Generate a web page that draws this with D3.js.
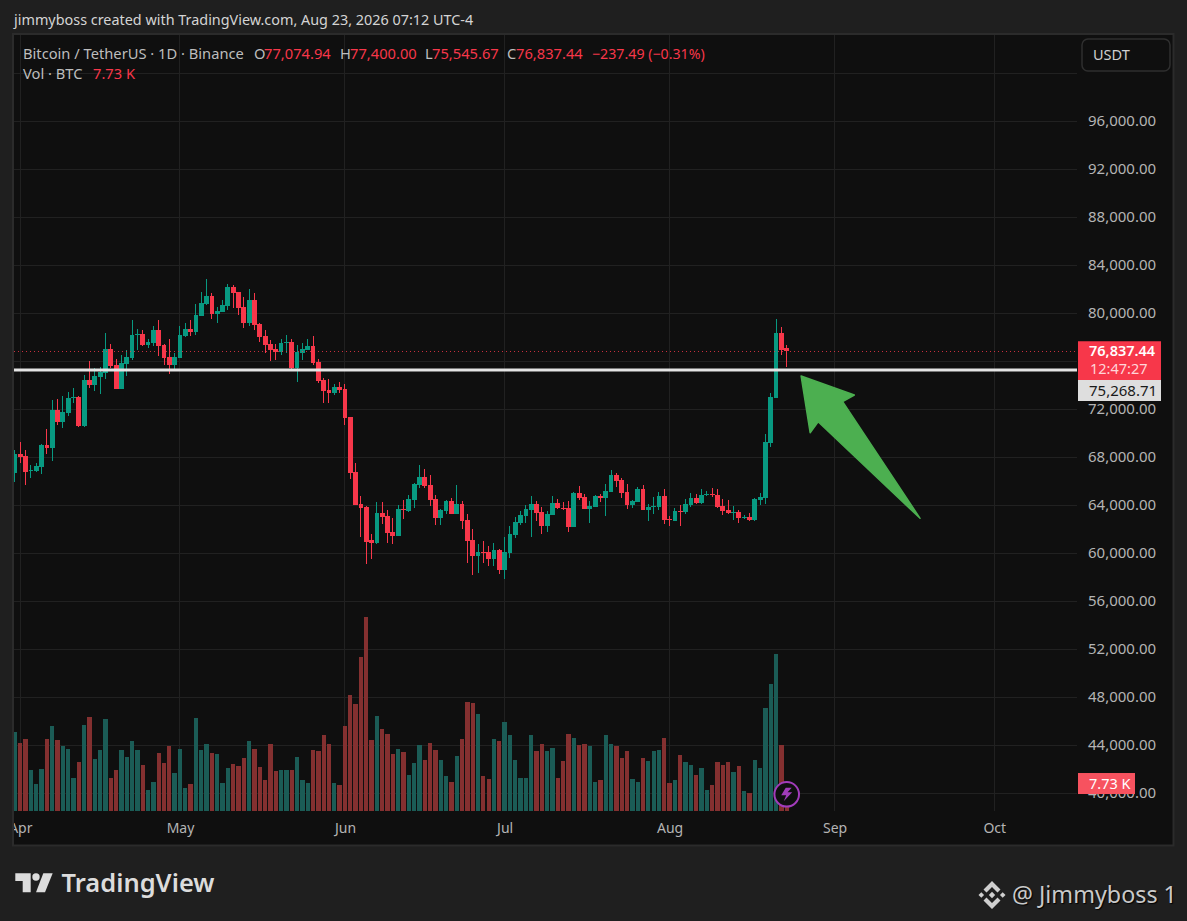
<!DOCTYPE html>
<html>
<head>
<meta charset="utf-8">
<title>BTCUSDT</title>
<script src="https://cdnjs.cloudflare.com/ajax/libs/d3/7.8.5/d3.min.js"></script>
<style>
    html, body { margin: 0; padding: 0; background: #1f1f1f; overflow: hidden; }
    svg { display: block; }
    text { font-family: "Noto Sans", sans-serif; }
</style>
</head>
<body>
<svg id="chart" width="1187" height="921"></svg>
<script>
// first candle is Mar 31 2026, one candle per day up to Aug 23 2026
const firstDay = Date.UTC(2026, 2, 31);

const openPrices = [
    66720, 68280, 68110, 66860, 66860, 67190, 69030, 68780, 71940, 70940,
    71690, 72940, 73030, 70610, 74440, 74030, 74690, 75030, 77030, 75690,
    73690, 75780, 76280, 78190, 78280, 77360, 77530, 78610, 77360, 76360,
    75690, 76280, 78110, 78690, 78440, 79780, 80780, 81440, 79940, 80110,
    80610, 82190, 81780, 80530, 79190, 81110, 79110, 78110, 77440, 77030,
    76780, 77530, 77610, 75440, 76690, 76940, 77280, 75940, 74440, 73610,
    73360, 73860, 73690, 71360, 66780, 64110, 63860, 61110, 60860, 63360,
    63110, 61780, 61440, 63690, 63530, 64440, 65690, 66360, 65690, 64530,
    62940, 63530, 64360, 63280, 64110, 62780, 61110, 59780, 60110, 60110,
    59530, 60280, 58610, 60030, 61530, 62530, 63110, 63610, 64110, 63440,
    62280, 63190, 64190, 63780, 63780, 62190, 65030, 64690, 63690, 63860,
    64780, 64610, 65110, 66530, 66110, 65110, 64030, 64280, 65360, 63610,
    63860, 63860, 64780, 62860, 62690, 63530, 63440, 64030, 64610, 64190,
    64860, 64940, 64860, 63940, 63610, 63360, 63440, 62940, 63030, 62780,
    64440, 64610, 69190, 72940, 78360, 77074.94
];
const highPrices = [
    68610, 69280, 68610, 67360, 67530, 69110, 70360, 72780, 72860, 73110,
    73440, 73780, 73110, 74860, 76030, 75440, 75530, 78360, 77440, 76190,
    76530, 76940, 79440, 78690, 78610, 77860, 78940, 79440, 77440, 77860,
    76690, 78940, 79190, 79440, 80780, 81780, 82860, 81690, 80530, 81110,
    82440, 82360, 81780, 81360, 82030, 81690, 79190, 78610, 77780, 77440,
    77860, 78190, 77860, 77360, 77530, 77860, 78110, 76190, 74610, 74530,
    74110, 74280, 74110, 71360, 67530, 64780, 63940, 61610, 64280, 64280,
    63610, 62940, 64030, 64440, 64860, 65860, 67360, 67030, 66530, 64860,
    63690, 64440, 64610, 65690, 64360, 63280, 62030, 60780, 61030, 60610,
    60860, 60360, 61360, 62280, 63030, 63530, 64030, 64780, 64360, 63860,
    63530, 64780, 64530, 64280, 64360, 65110, 65610, 64940, 64360, 64860,
    64940, 65780, 66940, 66690, 66280, 65780, 64440, 65530, 65690, 64110,
    64690, 65110, 65360, 63110, 63780, 64030, 64530, 65030, 64940, 65360,
    65190, 65440, 65360, 64530, 64440, 63940, 63610, 63190, 63360, 64610,
    65030, 69940, 73360, 79530, 78860, 77400
];
const lowPrices = [
    65940, 67530, 65690, 66280, 66780, 66610, 68280, 67690, 70690, 70440,
    71440, 72530, 70530, 70530, 73780, 73530, 73280, 74530, 75440, 73690,
    73690, 74780, 76110, 76940, 77280, 77110, 77280, 76440, 75690, 74940,
    75280, 76280, 78030, 78110, 78190, 79780, 80690, 79530, 79190, 80110,
    80280, 80440, 79860, 78780, 78940, 78610, 77610, 76690, 76030, 76110,
    76530, 76690, 75360, 74280, 76110, 76940, 75690, 74190, 72530, 72530,
    73190, 73360, 70690, 66190, 64030, 61360, 59110, 59530, 60780, 62440,
    60860, 60780, 61440, 62860, 63440, 63780, 65440, 65440, 63940, 62360,
    62360, 63280, 63280, 63280, 62030, 59190, 58190, 58360, 59190, 58940,
    58940, 58280, 57860, 59610, 61280, 62360, 62530, 61360, 62690, 61610,
    61780, 63190, 63690, 63610, 61780, 62190, 64440, 63690, 62530, 63860,
    64280, 63110, 65110, 65530, 64610, 63690, 63780, 64280, 63610, 62690,
    63280, 63610, 62440, 62280, 62690, 62280, 63280, 63860, 64110, 64110,
    64780, 64690, 63780, 63190, 63280, 62780, 62530, 62860, 62690, 62690,
    64030, 64110, 68860, 72940, 76530, 75545.67
];
const closePrices = [
    68280, 68030, 66780, 66940, 67280, 69030, 68780, 71940, 70940, 71780,
    72940, 73030, 70610, 74440, 74030, 74780, 75110, 77030, 75610, 73690,
    75860, 76360, 78190, 78280, 77360, 77610, 78610, 77280, 76280, 75690,
    76360, 78190, 78690, 78440, 79860, 80860, 81440, 79940, 80190, 80690,
    82190, 81690, 80440, 79190, 81110, 79030, 78030, 77360, 76940, 76780,
    77530, 77610, 75440, 76780, 77030, 77280, 75860, 74360, 73530, 73360,
    73860, 73610, 71280, 66690, 64030, 63780, 60940, 60860, 63360, 63030,
    61690, 61440, 63690, 63610, 64530, 65780, 66360, 65610, 64440, 62940,
    63610, 64360, 63280, 64110, 62690, 61030, 59780, 60110, 60030, 59530,
    60280, 58610, 60110, 61610, 62610, 63190, 63690, 64110, 63360, 62280,
    63280, 64190, 63780, 63690, 62190, 65030, 64610, 63690, 63940, 64780,
    64610, 65190, 66530, 66030, 65030, 64030, 64360, 65360, 63610, 63860,
    63940, 64780, 62780, 62780, 63530, 63440, 64110, 64610, 64190, 64860,
    64940, 64860, 63860, 63530, 63360, 63440, 62940, 63030, 62780, 64530,
    64690, 69280, 73030, 78360, 76940, 76837.44
];
// volume in thousands of BTC
const volumes = [
    21.8, 18.8, 19.9, 11.3, 7.5, 11.6, 19.9, 23.5, 19.6, 18.0,
    17.1, 9.1, 13.5, 23.8, 26.0, 14.4, 16.9, 25.4, 9.1, 11.3,
    16.9, 14.9, 19.3, 16.9, 12.7, 5.8, 8.0, 16.0, 13.3, 18.0,
    10.5, 17.1, 6.4, 7.5, 25.7, 16.9, 18.5, 16.0, 15.8, 7.7,
    11.9, 13.0, 12.4, 14.6, 19.3, 17.1, 12.2, 8.6, 18.5, 11.1,
    11.3, 11.3, 11.3, 14.9, 8.6, 7.7, 16.9, 16.6, 21.0, 18.5,
    7.7, 7.2, 23.5, 32.1, 29.6, 42.5, 53.6, 19.6, 26.2, 22.7,
    21.3, 15.8, 17.1, 16.3, 9.9, 13.3, 18.2, 14.1, 18.8, 16.9,
    14.1, 9.7, 8.0, 15.2, 19.9, 30.1, 29.8, 26.8, 9.7, 8.8,
    19.9, 19.3, 24.6, 21.0, 14.1, 9.1, 9.1, 21.0, 16.6, 18.5,
    16.6, 17.4, 9.1, 13.8, 21.3, 20.2, 18.2, 18.5, 18.0, 8.0,
    8.6, 21.0, 18.5, 18.0, 14.6, 16.6, 8.8, 8.0, 14.6, 13.8,
    16.6, 16.9, 20.2, 7.7, 8.6, 15.5, 13.5, 12.7, 9.9, 11.9,
    5.8, 7.2, 13.5, 12.7, 13.5, 10.8, 12.4, 5.5, 5.0, 14.1,
    11.9, 28.5, 35.1, 43.4, 18.2, 7.73
];

// 76,000 sits under the price tag so it has a grid line but no label
const priceTicks = [96000, 92000, 88000, 84000, 80000, 72000, 68000, 64000, 60000, 56000, 52000, 48000, 44000, 40000];
const gridPrices = [100000, 76000].concat(priceTicks);
const monthLabels = ["Apr", "May", "Jun", "Jul", "Aug", "Sep", "Oct"];
const monthDates = [3, 4, 5, 6, 7, 8, 9].map(m => new Date(Date.UTC(2026, m, 1)));

const lastPrice = 76837.44;
const levelPrice = 75268.71;
const lastVolume = 7.73;

// hand drawn arrow, as day offset from firstDay and price
const arrowDays = [147.7, 157.7, 155.5, 170.05, 150.9, 149.4];
const arrowPrices = [74775, 73192, 72633, 62917, 70967, 70050];

const colors = {
    page: "#1f1f1f", panel: "#0f0f0f", border: "#2b2b2b", grid: "#212121",
    up: "#089981", down: "#f7374a", upVol: "#1b5c56", downVol: "#843030",
    label: "#b4b4b4", legend: "#bdbdbd", level: "#e4e4e4", arrow: "#4caf50"
};

const plot = {left: 14, right: 1077, top: 35, bottom: 811};

function dayToDate(i){
    return new Date(firstDay + i * 864e5);
}

const svg = d3.select("#chart");
const x = d3.scaleUtc()
    .domain([new Date(Date.UTC(2026, 3, 1)), new Date(Date.UTC(2026, 9, 1))])
    .range([20.3, 994.3]);
const y = d3.scaleLinear().domain([96000, 40000]).range([121.3, 793.3]);
const yVol = d3.scaleLinear().domain([0, 100]).range([plot.bottom, plot.bottom - 362]);

svg.append("rect").attr("width", 1187).attr("height", 921).attr("fill", colors.page);
svg.append("rect")
    .attr("x", 13).attr("y", 34).attr("width", 1160.5).attr("height", 811.5)
    .attr("fill", colors.panel)
    .attr("stroke", colors.border).attr("stroke-width", 2);

svg.append("text").attr("x", 14).attr("y", 25)
    .attr("fill", "#d4d4d4").attr("font-size", 14.4)
    .text("jimmyboss created with TradingView.com, Aug 23, 2026 07:12 UTC-4");

svg.append("clipPath").attr("id", "plotClip").append("rect")
    .attr("x", plot.left).attr("y", plot.top)
    .attr("width", plot.right - plot.left).attr("height", plot.bottom - plot.top);

const grid = svg.append("g").attr("shape-rendering", "crispEdges").attr("stroke", colors.grid);
grid.selectAll(".h").data(gridPrices).join("line")
    .attr("class", "h")
    .attr("x1", plot.left).attr("x2", plot.right)
    .attr("y1", d => y(d)).attr("y2", d => y(d));
grid.selectAll(".v").data(monthDates).join("line")
    .attr("class", "v")
    .attr("x1", d => x(d)).attr("x2", d => x(d))
    .attr("y1", plot.top).attr("y2", plot.bottom);

const chart = svg.append("g").attr("clip-path", "url(#plotClip)");

const days = d3.range(openPrices.length);
const center = i => x(dayToDate(i));
const isUp = i => closePrices[i] >= openPrices[i];

chart.append("g").attr("shape-rendering", "crispEdges")
    .selectAll("rect").data(days).join("rect")
    .attr("x", i => center(i) - 2.15)
    .attr("width", 4.3)
    .attr("y", i => yVol(volumes[i]))
    .attr("height", i => yVol(0) - yVol(volumes[i]))
    .attr("fill", i => isUp(i) ? colors.upVol : colors.downVol);

const candles = chart.append("g").attr("shape-rendering", "crispEdges");
candles.selectAll(".wick").data(days).join("rect")
    .attr("class", "wick")
    .attr("x", i => center(i) - 0.5)
    .attr("width", 1)
    .attr("y", i => y(highPrices[i]))
    .attr("height", i => y(lowPrices[i]) - y(highPrices[i]))
    .attr("fill", i => isUp(i) ? colors.up : colors.down);
candles.selectAll(".body").data(days).join("rect")
    .attr("class", "body")
    .attr("x", i => center(i) - 2.4)
    .attr("width", 4.8)
    .attr("y", i => y(Math.max(openPrices[i], closePrices[i])))
    .attr("height", i => Math.max(1, Math.abs(y(openPrices[i]) - y(closePrices[i]))))
    .attr("fill", i => isUp(i) ? colors.up : colors.down);

// last price dotted line and the drawn level
svg.append("line")
    .attr("x1", plot.left).attr("x2", plot.right)
    .attr("y1", y(lastPrice)).attr("y2", y(lastPrice))
    .attr("stroke", colors.down).attr("stroke-opacity", 0.8)
    .attr("shape-rendering", "crispEdges")
    .attr("stroke-dasharray", "1 3");
svg.append("line")
    .attr("x1", plot.left).attr("x2", plot.right)
    .attr("y1", y(levelPrice)).attr("y2", y(levelPrice))
    .attr("stroke", colors.level).attr("stroke-width", 3);

const arrowLine = d3.line().x(d => x(dayToDate(d[0]))).y(d => y(d[1])).curve(d3.curveLinearClosed);
svg.append("path")
    .attr("d", arrowLine(arrowDays.map((d, k) => [d, arrowPrices[k]])))
    .attr("fill", colors.arrow)
    .attr("stroke", colors.arrow).attr("stroke-width", 1.5).attr("stroke-linejoin", "round");

// axes
const yAxis = d3.axisRight(y).tickValues(priceTicks).tickSize(0).tickPadding(0)
    .tickFormat(d3.format(",.2f"));
const yAxisG = svg.append("g").attr("transform", "translate(1088,0)").call(yAxis);
yAxisG.select(".domain").remove();
yAxisG.selectAll("text").attr("fill", colors.label).attr("font-size", 15).attr("dy", "0.27em");

const xAxis = d3.axisBottom(x).tickValues(monthDates).tickSize(0).tickPadding(0)
    .tickFormat((d, k) => monthLabels[k]);
const xAxisG = svg.append("g")
    .attr("transform", "translate(0,833)")
    .attr("clip-path", "url(#axisClip)")
    .call(xAxis);
xAxisG.select(".domain").remove();
xAxisG.selectAll("text").attr("fill", colors.label).attr("font-size", 14).attr("dy", 0);
svg.append("clipPath").attr("id", "axisClip").append("rect")
    .attr("x", 14).attr("y", -30).attr("width", 1150).attr("height", 40);

// legend
const legendItems = [
    {x: 23, t: "Bitcoin / TetherUS · 1D · Binance", c: colors.legend},
    {x: 254, t: "O", c: colors.legend}, {x: 264, t: "77,074.94", c: colors.down},
    {x: 340, t: "H", c: colors.legend}, {x: 350, t: "77,400.00", c: colors.down},
    {x: 425, t: "L", c: colors.legend}, {x: 432, t: "75,545.67", c: colors.down},
    {x: 507, t: "C", c: colors.legend}, {x: 516, t: "76,837.44", c: colors.down},
    {x: 592, t: "−237.49 (−0.31%)", c: colors.down, s: 14.2}
];
svg.append("g").selectAll("text").data(legendItems).join("text")
    .attr("x", d => d.x).attr("y", 59)
    .attr("fill", d => d.c).attr("font-size", d => d.s || 14.7)
    .text(d => d.t);
svg.append("text").attr("x", 23).attr("y", 79)
    .attr("fill", colors.legend).attr("font-size", 14.7).text("Vol · BTC");
svg.append("text").attr("x", 93).attr("y", 79)
    .attr("fill", colors.down).attr("font-size", 14.7).text("7.73 K");

// USDT button
svg.append("rect")
    .attr("x", 1082).attr("y", 39).attr("width", 88).attr("height", 32).attr("rx", 6)
    .attr("fill", "none").attr("stroke", "#2f2f2f").attr("stroke-width", 1.5);
svg.append("text").attr("x", 1093).attr("y", 60)
    .attr("fill", "#d0d0d0").attr("font-size", 14.5).text("USDT");

// price tags
const tagX = 1078, tagW = 83;
svg.append("rect").attr("x", tagX).attr("y", y(lastPrice) - 10).attr("width", tagW).attr("height", 39)
    .attr("fill", colors.down);
svg.append("text").attr("x", 1089).attr("y", y(lastPrice) + 5)
    .attr("fill", "#fff").attr("font-size", 14.5).attr("font-weight", 600).text(d3.format(",.2f")(lastPrice));
svg.append("text").attr("x", 1090).attr("y", y(lastPrice) + 23)
    .attr("fill", "#ffd5d9").attr("font-size", 14.5).text("12:47:27");
svg.append("rect").attr("x", tagX).attr("y", 380).attr("width", tagW).attr("height", 21)
    .attr("fill", "#dedede");
svg.append("text").attr("x", 1089).attr("y", 396)
    .attr("fill", "#1a1a1a").attr("font-size", 15).text(d3.format(",.2f")(levelPrice));
svg.append("rect").attr("x", tagX).attr("y", yVol(lastVolume) - 10).attr("width", 57).attr("height", 21)
    .attr("fill", "#f7525f");
svg.append("text").attr("x", 1089).attr("y", yVol(lastVolume) + 5.5)
    .attr("fill", "#fff").attr("font-size", 14.5).text("7.73 K");

// bolt badge
const badge = svg.append("g").attr("transform", "translate(" + center(145) + ",794.3)");
badge.append("circle").attr("r", 12.3)
    .attr("fill", colors.panel).attr("stroke", "#a23cba").attr("stroke-width", 2);
badge.append("path").attr("d", "M5,-6.5 L-1,-6.5 L-5.5,1 L-0.5,1 L-3,7 L5.5,-2 L0.8,-2 Z").attr("fill", "#a23cba");

// bottom logo
const logo = svg.append("g").attr("fill", "#dcdcdc");
logo.append("path").attr("d", "M15.3,873.3 H30.7 V892.3 H22.7 V881 H15.3 Z");
logo.append("circle").attr("cx", 36).attr("cy", 877).attr("r", 3.7);
logo.append("path").attr("d", "M43.3,873.3 H52.7 L45,892.3 H36 Z");
logo.append("text").attr("x", 61.5).attr("y", 892)
    .attr("font-size", 25.5).attr("font-weight", 600).attr("font-family", "Inter, sans-serif")
    .text("TradingView");

// binance mark and signature
const mark = svg.append("g").attr("transform", "translate(992,895)").attr("fill", "#cfcfcf");
mark.append("path").attr("d", "M-8.5,-5.5 L0,-14 L8.5,-5.5 L5.5,-2.5 L0,-8 L-5.5,-2.5 Z");
mark.append("path").attr("d", "M-8.5,5.5 L0,14 L8.5,5.5 L5.5,2.5 L0,8 L-5.5,2.5 Z");
mark.append("path").attr("d", "M-13.5,0 L-10.7,-2.8 L-7.9,0 L-10.7,2.8 Z");
mark.append("path").attr("d", "M13.5,0 L10.7,-2.8 L7.9,0 L10.7,2.8 Z");
mark.append("path").attr("d", "M0,-3.2 L3.2,0 L0,3.2 L-3.2,0 Z");
svg.append("text").attr("x", 1012).attr("y", 903)
    .attr("fill", "#c9c9c9").attr("font-size", 23.3).attr("font-family", "'Open Sans', sans-serif")
    .style("text-shadow", "1px 1px 1px #000")
    .text("@ Jimmyboss 1");
</script>
</body>
</html>
